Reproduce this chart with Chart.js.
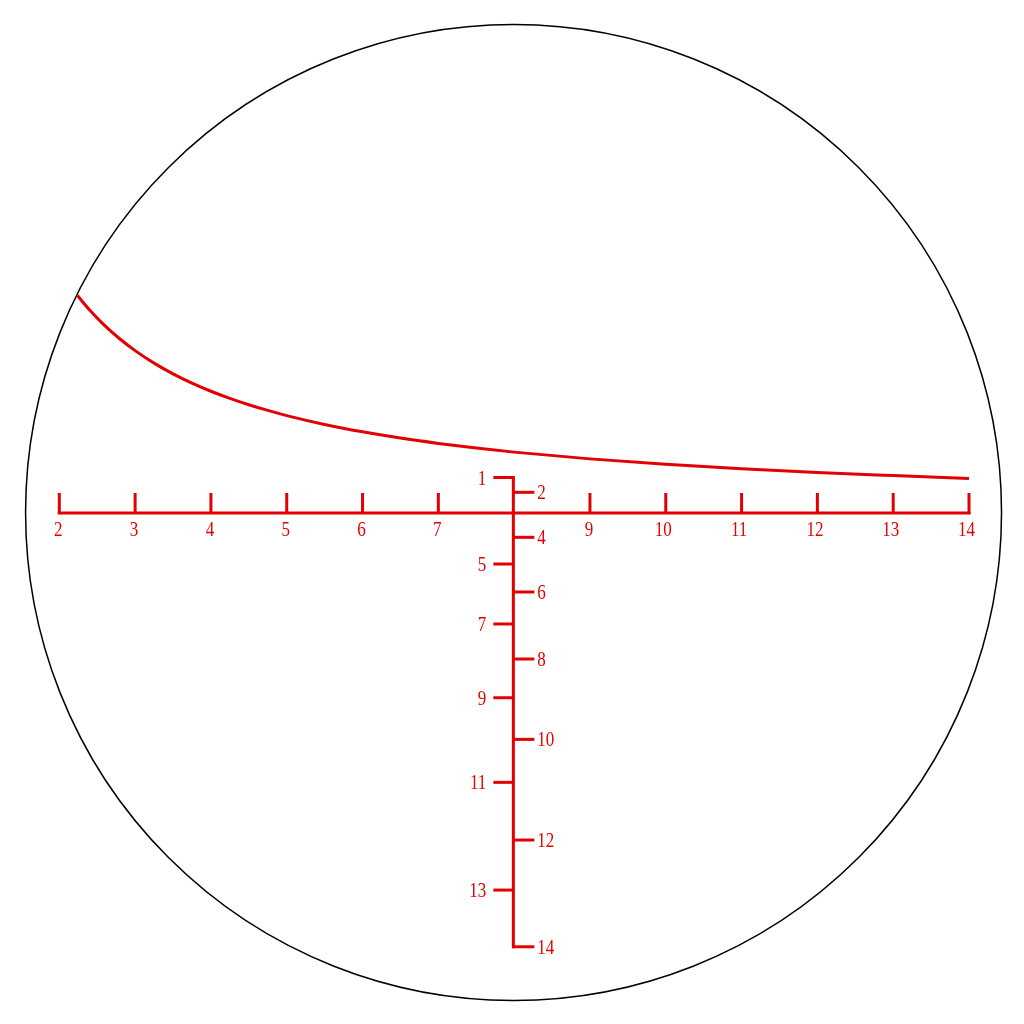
<!DOCTYPE html>
<html>
<head>
<meta charset="utf-8">
<script src="https://cdn.jsdelivr.net/npm/chart.js@4.4.1/dist/chart.umd.min.js"></script>
<style>
  html, body { margin: 0; padding: 0; background: #ffffff; }
  #wrap { width: 1024px; height: 1024px; }
</style>
</head>
<body>
<div id="wrap"><canvas id="c" width="1024" height="1024"></canvas></div>
<script>
// ---- data ----
// horizontal scale marks (8 is occupied by the vertical stem)
const hTicks = [2, 3, 4, 5, 6, 7, 9, 10, 11, 12, 13, 14];
const hLabels = ['2', '3', '4', '5', '6', '7', '9', '10', '11', '12', '13', '14'];
const stemX = 8;

// vertical stem marks: label values and their vertical positions (axis units, up positive)
const vLabels = ['1', '2', '4', '5', '6', '7', '8', '9', '10', '11', '12', '13', '14'];
const vValues = [1, 2, 4, 5, 6, 7, 8, 9, 10, 11, 12, 13, 14];
const vPos = [0.468, 0.273, -0.321, -0.673, -1.042, -1.464, -1.926, -2.437, -2.986, -3.553, -4.314, -4.974, -5.722];

// ranging curve
const curveX = [2.24, 2.4, 2.6, 2.8, 3, 3.25, 3.5, 3.75, 4, 4.25, 4.5, 4.75, 5, 5.5, 6, 6.5, 7, 7.5, 8, 9, 10, 11, 12, 13, 14];
const curveY = [2.868, 2.677, 2.471, 2.295, 2.142, 1.977, 1.836, 1.713, 1.606, 1.512, 1.428, 1.353, 1.285, 1.168, 1.071, 0.988, 0.918, 0.857, 0.803, 0.714, 0.643, 0.584, 0.535, 0.494, 0.455];

// ---- style ----
const RED = '#e30000';
const FONT = '21px "Liberation Serif", "DejaVu Serif", serif';
const CIRCLE_R_UNITS = 6.437;

const curveData = curveX.map((x, i) => ({ x: x, y: curveY[i] }));
const baseData = [{ x: hTicks[0], y: 0 }, { x: hTicks[hTicks.length - 1], y: 0 }];
const stemData = [{ x: stemX, y: vPos[0] }, { x: stemX, y: vPos[vPos.length - 1] }];

const reticle = {
  id: 'reticle',
  beforeDatasetsDraw(chart) {
    const ctx = chart.ctx, xs = chart.scales.x, ys = chart.scales.y;
    const cx = xs.getPixelForValue(stemX), cy = ys.getPixelForValue(0);
    const r = xs.getPixelForValue(stemX + CIRCLE_R_UNITS) - cx;
    ctx.save();
    ctx.beginPath();
    ctx.arc(cx - 0.6, cy - 0.5, r, 0, Math.PI * 2);
    ctx.strokeStyle = '#000000';
    ctx.lineWidth = 1.5;
    ctx.stroke();
    ctx.restore();
  },
  afterDatasetsDraw(chart) {
    const ctx = chart.ctx, xs = chart.scales.x, ys = chart.scales.y;
    const y0 = ys.getPixelForValue(0);
    const sx = xs.getPixelForValue(stemX) - 0.8;
    ctx.save();
    ctx.strokeStyle = RED;
    ctx.fillStyle = RED;
    ctx.lineWidth = 3;
    ctx.lineCap = 'butt';
    // horizontal marks
    hTicks.forEach((v, i) => {
      const px = xs.getPixelForValue(v);
      ctx.beginPath();
      ctx.moveTo(px, y0 + 1);
      ctx.lineTo(px, y0 - 20);
      ctx.stroke();
      ctx.save();
      ctx.font = FONT;
      ctx.translate(px - (hLabels[i].length > 1 ? 2.5 : 1), y0 + 23);
      ctx.scale(0.81, 1);
      ctx.textAlign = 'center';
      ctx.textBaseline = 'alphabetic';
      ctx.fillText(hLabels[i], 0, 0);
      ctx.restore();
    });
    // stem marks
    vPos.forEach((p, i) => {
      const py = ys.getPixelForValue(p);
      const left = vValues[i] % 2 === 1;
      ctx.beginPath();
      if (left) { ctx.moveTo(sx + 1, py); ctx.lineTo(sx - 20, py); }
      else { ctx.moveTo(sx - 1, py); ctx.lineTo(sx + 21, py); }
      ctx.stroke();
      ctx.save();
      ctx.font = FONT;
      ctx.textBaseline = 'alphabetic';
      if (left) {
        ctx.translate(sx - 27, py + 7);
        ctx.scale(0.81, 1);
        ctx.textAlign = 'right';
      } else {
        ctx.translate(sx + 24, py + 7);
        ctx.scale(0.81, 1);
        ctx.textAlign = 'left';
      }
      ctx.fillText(vLabels[i], 0, 0);
      ctx.restore();
    });
    ctx.restore();
  }
};

// pixel mapping: x = 2 at ~59px, x = 14 at ~969px; y = 0 at ~513px, same unit size
const UNIT = (969 - 59.3) / 12;
const X_MIN = 2 - 59.3 / UNIT;
const X_MAX = X_MIN + 1024 / UNIT;
const Y_MAX = 513 / UNIT;
const Y_MIN = Y_MAX - 1024 / UNIT;

new Chart(document.getElementById('c'), {
  type: 'scatter',
  data: {
    datasets: [
      {
        label: 'curve',
        data: curveData,
        showLine: true,
        borderColor: RED,
        borderWidth: 3,
        pointRadius: 0,
        cubicInterpolationMode: 'monotone',
        fill: false
      },
      {
        label: 'horizontal',
        data: baseData,
        showLine: true,
        borderColor: RED,
        borderWidth: 3,
        pointRadius: 0,
        borderCapStyle: 'square'
      },
      {
        label: 'stem',
        data: stemData.map(d => ({ x: d.x - 0.0105, y: d.y })),
        showLine: true,
        borderColor: RED,
        borderWidth: 3,
        pointRadius: 0,
        borderCapStyle: 'square'
      }
    ]
  },
  options: {
    responsive: false,
    animation: false,
    layout: { padding: 0 },
    plugins: { legend: { display: false }, tooltip: { enabled: false } },
    scales: {
      x: { type: 'linear', min: X_MIN, max: X_MAX, display: false },
      y: { type: 'linear', min: Y_MIN, max: Y_MAX, display: false }
    }
  },
  plugins: [reticle]
});
</script>
</body>
</html>
